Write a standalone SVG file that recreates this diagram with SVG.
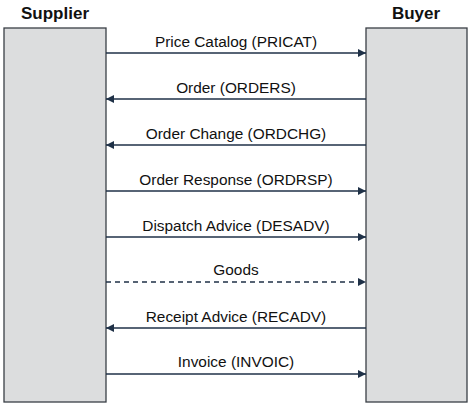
<svg xmlns="http://www.w3.org/2000/svg" width="474" height="409" viewBox="0 0 474 409">
<style>
.lane{fill:#dcddde;stroke:#3a3f46;stroke-width:1.3}
.title{font-family:"Liberation Sans",Arial,sans-serif;font-size:17px;font-weight:bold;fill:#111;text-anchor:middle}
.lbl{font-family:"Liberation Sans",Arial,sans-serif;font-size:15.4px;fill:#111;text-anchor:middle}
.msg{stroke:#1f3147;stroke-width:1.3;fill:none}
.dash{stroke-dasharray:5,4}
</style>
<defs>
<marker id="ah" viewBox="0 0 10 10" refX="10" refY="5" markerWidth="8" markerHeight="8" markerUnits="userSpaceOnUse" orient="auto">
<path d="M0,0 L10,5 L0,10 z" fill="#1f3147"/>
</marker>
</defs>
<rect width="474" height="409" fill="#fff"/>
<g id="supplier">
<rect class="lane" x="4" y="28" width="102" height="374"/>
<text class="title" x="55" y="19">Supplier</text>
</g>
<g id="buyer">
<rect class="lane" x="366" y="28" width="101" height="374"/>
<text class="title" x="416" y="19">Buyer</text>
</g>
<g id="connectors">
<line class="msg" x1="106" y1="53" x2="366" y2="53" marker-end="url(#ah)"/>
<text class="lbl" x="236" y="47">Price Catalog (PRICAT)</text>
<line class="msg" x1="366" y1="99" x2="106" y2="99" marker-end="url(#ah)"/>
<text class="lbl" x="236" y="93">Order (ORDERS)</text>
<line class="msg" x1="366" y1="145" x2="106" y2="145" marker-end="url(#ah)"/>
<text class="lbl" x="236" y="139">Order Change (ORDCHG)</text>
<line class="msg" x1="106" y1="191" x2="366" y2="191" marker-end="url(#ah)"/>
<text class="lbl" x="236" y="185">Order Response (ORDRSP)</text>
<line class="msg" x1="106" y1="237" x2="366" y2="237" marker-end="url(#ah)"/>
<text class="lbl" x="236" y="231">Dispatch Advice (DESADV)</text>
<line class="msg dash" x1="106" y1="282" x2="366" y2="282" marker-end="url(#ah)"/>
<text class="lbl" x="236" y="275">Goods</text>
<line class="msg" x1="366" y1="328" x2="106" y2="328" marker-end="url(#ah)"/>
<text class="lbl" x="236" y="322">Receipt Advice (RECADV)</text>
<line class="msg" x1="106" y1="374" x2="366" y2="374" marker-end="url(#ah)"/>
<text class="lbl" x="236" y="367">Invoice (INVOIC)</text>
</g>
</svg>
